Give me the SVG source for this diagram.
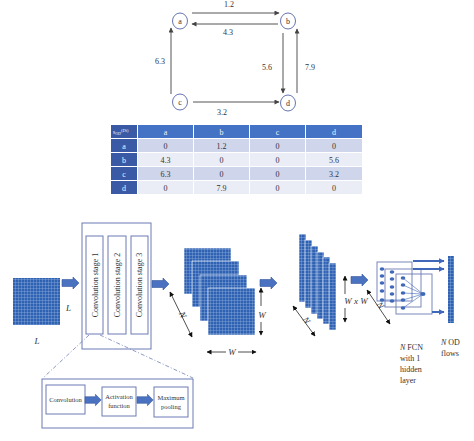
<svg xmlns="http://www.w3.org/2000/svg" xmlns:xlink="http://www.w3.org/1999/xlink" width="474" height="441" viewBox="0 0 474 441">
<style>
.t{font-family:"Liberation Serif","Times New Roman",serif;font-size:8px;fill:#333}
.it{font-family:"Liberation Serif","Times New Roman",serif;font-size:9px;font-style:italic;fill:#333}
.g{stroke:#555;stroke-width:1;fill:none}
.node{fill:#fff;stroke:#5565a8;stroke-width:0.9}
.box{fill:#fff;stroke:#6c7ab4;stroke-width:1}
.dim{stroke:#222;stroke-width:0.8;fill:none}
.barrow{fill:#4a72c0;stroke:#34589e;stroke-width:0.6}
.cellw{font-family:"Liberation Serif","Times New Roman",serif;font-size:8px;fill:#eef2fb}
.sm{font-family:"Liberation Serif","Times New Roman",serif;font-size:6.5px;fill:#333}
</style>
<defs>
<marker id="ah" viewBox="0 0 10 10" refX="9" refY="5" markerWidth="6" markerHeight="5" markerUnits="userSpaceOnUse" orient="auto-start-reverse">
<path d="M0,0 L10,5 L0,10 Z" fill="#444"/>
</marker>
<marker id="ab" viewBox="0 0 10 10" refX="9" refY="5" markerWidth="5" markerHeight="5" markerUnits="userSpaceOnUse" orient="auto-start-reverse">
<path d="M0,0 L10,5 L0,10 Z" fill="#111"/>
</marker>
<marker id="abl" viewBox="0 0 10 10" refX="9" refY="5" markerWidth="6" markerHeight="6" markerUnits="userSpaceOnUse" orient="auto">
<path d="M0,0 L10,5 L0,10 Z" fill="#3f68b8"/>
</marker>
<pattern id="grid" width="3" height="3" patternUnits="userSpaceOnUse">
<rect width="3" height="3" fill="#2f62b2"/>
<path d="M0,0.2 H3 M0.2,0 V3" stroke="#9bb6e2" stroke-width="0.5"/>
</pattern>
<pattern id="vgrid" width="3.5" height="3" patternUnits="userSpaceOnUse">
<rect width="3.5" height="3" fill="#2f62b2"/>
<path d="M0,0.2 H3.5 M0.2,0 V3" stroke="#9bb6e2" stroke-width="0.5"/>
</pattern>
<path id="barr" d="M0,-3.5 H11 V-6 L17,0 L11,6 V3.5 H0 Z"/>
</defs>

<!-- top graph -->
<g id="edges-top">
<line class="g" x1="192" y1="13" x2="279" y2="13" marker-end="url(#ah)"/>
<line class="g" x1="278" y1="24" x2="192" y2="24" marker-end="url(#ah)"/>
<line class="g" x1="171" y1="94" x2="171" y2="28" marker-end="url(#ah)"/>
<line class="g" x1="283" y1="33" x2="283" y2="93" marker-end="url(#ah)"/>
<line class="g" x1="297" y1="93" x2="297" y2="29" marker-end="url(#ah)"/>
<line class="g" x1="193" y1="102" x2="279" y2="102" marker-end="url(#ah)"/>
<text class="t" x="229" y="7" text-anchor="middle">1.2</text>
<text class="t" x="228" y="35" text-anchor="middle">4.3</text>
<text class="t" x="160" y="64" text-anchor="middle">6.3</text>
<text class="t" x="267" y="70" text-anchor="middle">5.6</text>
<text class="t" x="310" y="70" text-anchor="middle">7.9</text>
<text class="t" x="222" y="115" text-anchor="middle">3.2</text>
</g>
<g id="node-a"><ellipse class="node" cx="180" cy="21" rx="7.5" ry="8"/><text class="t" x="180" y="23.5" text-anchor="middle">a</text></g>
<g id="node-b"><ellipse class="node" cx="288" cy="21" rx="7.5" ry="8"/><text class="t" x="288" y="23.5" text-anchor="middle">b</text></g>
<g id="node-c"><ellipse class="node" cx="180" cy="102" rx="7.5" ry="8"/><text class="t" x="180" y="104.5" text-anchor="middle">c</text></g>
<g id="node-d"><ellipse class="node" cx="288" cy="103" rx="7.5" ry="8"/><text class="t" x="288" y="105.5" text-anchor="middle">d</text></g>

<!-- table -->
<g id="table">
<rect x="111" y="125" width="26" height="13" fill="#3a5aa6"/>
<rect x="138" y="125" width="55" height="13" fill="#4472c4"/>
<rect x="194" y="125" width="55" height="13" fill="#4472c4"/>
<rect x="250" y="125" width="55" height="13" fill="#4472c4"/>
<rect x="306" y="125" width="56" height="13" fill="#4472c4"/>
<rect x="111" y="139" width="26" height="13" fill="#3a5aa6"/>
<rect x="111" y="153" width="26" height="13" fill="#3a5aa6"/>
<rect x="111" y="167" width="26" height="13" fill="#3a5aa6"/>
<rect x="111" y="181" width="26" height="13" fill="#3a5aa6"/>
<rect x="138" y="139" width="224" height="13" fill="#cfd6ec"/>
<rect x="138" y="153" width="224" height="13" fill="#eaedf6"/>
<rect x="138" y="167" width="224" height="13" fill="#cfd6ec"/>
<rect x="138" y="181" width="224" height="13" fill="#eaedf6"/>
<g stroke="#fff" stroke-width="1">
<line x1="193.5" y1="139" x2="193.5" y2="194"/>
<line x1="249.5" y1="139" x2="249.5" y2="194"/>
<line x1="305.5" y1="139" x2="305.5" y2="194"/>
</g>
<text class="cellw" x="113" y="134" style="font-size:5.5px">s<tspan style="font-size:4px" dy="1">OD</tspan><tspan style="font-size:4.5px" dy="-3">(Dt)</tspan></text>
<text class="cellw" x="165.5" y="135" text-anchor="middle">a</text>
<text class="cellw" x="221.5" y="135" text-anchor="middle">b</text>
<text class="cellw" x="277.5" y="135" text-anchor="middle">c</text>
<text class="cellw" x="334" y="135" text-anchor="middle">d</text>
<text class="cellw" x="124" y="149" text-anchor="middle">a</text>
<text class="cellw" x="124" y="163" text-anchor="middle">b</text>
<text class="cellw" x="124" y="177" text-anchor="middle">c</text>
<text class="cellw" x="124" y="191" text-anchor="middle">d</text>
<g class="t" text-anchor="middle">
<text x="165.5" y="149">0</text><text x="221.5" y="149">1.2</text><text x="277.5" y="149">0</text><text x="334" y="149">0</text>
<text x="165.5" y="163">4.3</text><text x="221.5" y="163">0</text><text x="277.5" y="163">0</text><text x="334" y="163">5.6</text>
<text x="165.5" y="177">6.3</text><text x="221.5" y="177">0</text><text x="277.5" y="177">0</text><text x="334" y="177">3.2</text>
<text x="165.5" y="191">0</text><text x="221.5" y="191">7.9</text><text x="277.5" y="191">0</text><text x="334" y="191">0</text>
</g>
</g>

<!-- input grid -->
<g id="input">
<rect x="13" y="278" width="47" height="47" fill="url(#grid)"/>
<text class="it" x="66" y="311">L</text>
<text class="it" x="37" y="344" text-anchor="middle">L</text>
</g>

<!-- convolution stages -->
<g id="conv-stages">
<rect class="box" x="82" y="223" width="69" height="126"/>
<rect class="box" x="86" y="236" width="17" height="98"/>
<rect class="box" x="108" y="236" width="18" height="98"/>
<rect class="box" x="131" y="236" width="17" height="98"/>
<text class="t" transform="translate(97.5,285) rotate(-90)" text-anchor="middle">Convolution stage 1</text>
<text class="t" transform="translate(119.5,285) rotate(-90)" text-anchor="middle">Convolution stage 2</text>
<text class="t" transform="translate(142,285) rotate(-90)" text-anchor="middle">Convolution stage 3</text>
</g>

<!-- detail box -->
<g id="conv-detail">
<rect class="box" x="42" y="379" width="151" height="49"/>
<rect class="box" x="46" y="385" width="39" height="29"/>
<rect class="box" x="102" y="387" width="34" height="29"/>
<rect class="box" x="154" y="387" width="34" height="30"/>
<text class="sm" x="65.5" y="402" text-anchor="middle">Convolution</text>
<text class="sm" x="119" y="399" text-anchor="middle">Activation</text>
<text class="sm" x="119" y="408" text-anchor="middle">function</text>
<text class="sm" x="171" y="400" text-anchor="middle">Maximum</text>
<text class="sm" x="171" y="409" text-anchor="middle">pooling</text>
</g>

<!-- stacked feature maps -->
<g id="feature-maps">
<rect x="184" y="248" width="47" height="46" fill="url(#grid)" stroke="#fff" stroke-width="0.6"/>
<rect x="192" y="261" width="47" height="46" fill="url(#grid)" stroke="#fff" stroke-width="0.6"/>
<rect x="200" y="275" width="47" height="46" fill="url(#grid)" stroke="#fff" stroke-width="0.6"/>
<rect x="208" y="288" width="47" height="47" fill="url(#grid)" stroke="#fff" stroke-width="0.6"/>
<text class="it" transform="translate(180,316) rotate(65)" text-anchor="middle">N</text>
<text class="it" x="262" y="318" text-anchor="middle">W</text>
<text class="it" x="232" y="355" text-anchor="middle">W</text>
</g>

<!-- slices -->
<g id="slices">
<rect x="299" y="234" width="7" height="68" fill="url(#vgrid)" stroke="#fff" stroke-width="0.6"/>
<rect x="305" y="240" width="7" height="68" fill="url(#vgrid)" stroke="#fff" stroke-width="0.6"/>
<rect x="311" y="246" width="7" height="68" fill="url(#vgrid)" stroke="#fff" stroke-width="0.6"/>
<rect x="317" y="252" width="7" height="67" fill="url(#vgrid)" stroke="#fff" stroke-width="0.6"/>
<rect x="323" y="257" width="7" height="67" fill="url(#vgrid)" stroke="#fff" stroke-width="0.6"/>
<rect x="329" y="263" width="7" height="67" fill="url(#vgrid)" stroke="#fff" stroke-width="0.6"/>
<text class="it" transform="translate(304,322) rotate(55)" text-anchor="middle">N</text>
<text class="it" x="356" y="304" text-anchor="middle">W x W</text>
</g>

<!-- FCN -->
<g id="fcn">
<rect x="377" y="262" width="35" height="39" fill="none" stroke="#6c7ab4" stroke-width="0.9"/>
<rect x="385" y="269" width="36" height="38" fill="none" stroke="#6c7ab4" stroke-width="0.9"/>
<rect x="396" y="274" width="36" height="40" fill="none" stroke="#6c7ab4" stroke-width="0.9"/>
<g stroke="#3f68b8" stroke-width="0.6">
<line x1="403" y1="278" x2="423" y2="294"/>
<line x1="403" y1="285" x2="423" y2="294"/>
<line x1="403" y1="293" x2="423" y2="294"/>
<line x1="403" y1="300" x2="423" y2="294"/>
<line x1="403" y1="308" x2="423" y2="294"/>
<line x1="382" y1="300" x2="403" y2="300"/>
</g>
<g fill="#3f68b8">
<ellipse cx="382" cy="269" rx="2.3" ry="1.8"/><ellipse cx="382" cy="276" rx="2.3" ry="1.8"/><ellipse cx="382" cy="283" rx="2.3" ry="1.8"/><ellipse cx="382" cy="291" rx="2.3" ry="1.8"/><ellipse cx="382" cy="300" rx="2.3" ry="1.8"/>
<ellipse cx="392" cy="272" rx="2.3" ry="1.8"/><ellipse cx="392" cy="279" rx="2.3" ry="1.8"/><ellipse cx="392" cy="287" rx="2.3" ry="1.8"/><ellipse cx="392" cy="294" rx="2.3" ry="1.8"/><ellipse cx="392" cy="301" rx="2.3" ry="1.8"/>
<ellipse cx="403" cy="278" rx="2.3" ry="1.8"/><ellipse cx="403" cy="285" rx="2.3" ry="1.8"/><ellipse cx="403" cy="293" rx="2.3" ry="1.8"/><ellipse cx="403" cy="300" rx="2.3" ry="1.8"/><ellipse cx="403" cy="308" rx="2.3" ry="1.8"/>
<ellipse cx="423" cy="294" rx="2.5" ry="2"/>
</g>
<text class="t" x="400" y="350"><tspan font-style="italic">N</tspan> FCN</text>
<text class="t" x="400" y="361">with 1</text>
<text class="t" x="400" y="372">hidden</text>
<text class="t" x="400" y="383">layer</text>
<text class="it" transform="translate(378,307) rotate(55)" text-anchor="middle">N</text>
</g>

<!-- output -->
<g id="output">
<rect x="448" y="256" width="6" height="67" fill="url(#grid)"/>
<text class="t" x="441" y="345"><tspan font-style="italic">N</tspan> OD</text>
<text class="t" x="441" y="356">flows</text>
</g>

<!-- connectors -->
<g id="connectors">
<use xlink:href="#barr" class="barrow" transform="translate(62,283)"/>
<use xlink:href="#barr" class="barrow" transform="translate(152,284)"/>
<use xlink:href="#barr" class="barrow" transform="translate(260,283)"/>
<use xlink:href="#barr" class="barrow" transform="translate(351,280)"/>
<use xlink:href="#barr" class="barrow" transform="translate(85,400) scale(0.95)"/>
<use xlink:href="#barr" class="barrow" transform="translate(137,400) scale(0.95)"/>
<line x1="100" y1="335" x2="193" y2="378" stroke="#7080b8" stroke-width="0.8" stroke-dasharray="4 2 1 2"/>
<line x1="89" y1="335" x2="43" y2="378" stroke="#7080b8" stroke-width="0.8" stroke-dasharray="4 2 1 2"/>
<line class="dim" x1="170" y1="292" x2="192" y2="337" marker-start="url(#ab)" marker-end="url(#ab)"/>
<line class="dim" x1="261" y1="306" x2="261" y2="288" marker-end="url(#ab)"/>
<line class="dim" x1="261" y1="322" x2="261" y2="335" marker-end="url(#ab)"/>
<line class="dim" x1="226" y1="352" x2="207" y2="352" marker-end="url(#ab)"/>
<line class="dim" x1="238" y1="352" x2="256" y2="352" marker-end="url(#ab)"/>
<line class="dim" x1="293" y1="306" x2="315" y2="336" marker-start="url(#ab)" marker-end="url(#ab)"/>
<line class="dim" x1="345" y1="294" x2="345" y2="276" marker-end="url(#ab)"/>
<line class="dim" x1="345" y1="308" x2="345" y2="322" marker-end="url(#ab)"/>
<line class="dim" x1="367" y1="290" x2="390" y2="324" marker-start="url(#ab)" marker-end="url(#ab)"/>
<line x1="413" y1="261" x2="444" y2="261" stroke="#3f68b8" stroke-width="2" marker-end="url(#abl)"/>
<line x1="413" y1="269" x2="444" y2="269" stroke="#3f68b8" stroke-width="2" marker-end="url(#abl)"/>
<line x1="432" y1="312" x2="444" y2="312" stroke="#3f68b8" stroke-width="2" marker-end="url(#abl)"/>
</g>
</svg>
